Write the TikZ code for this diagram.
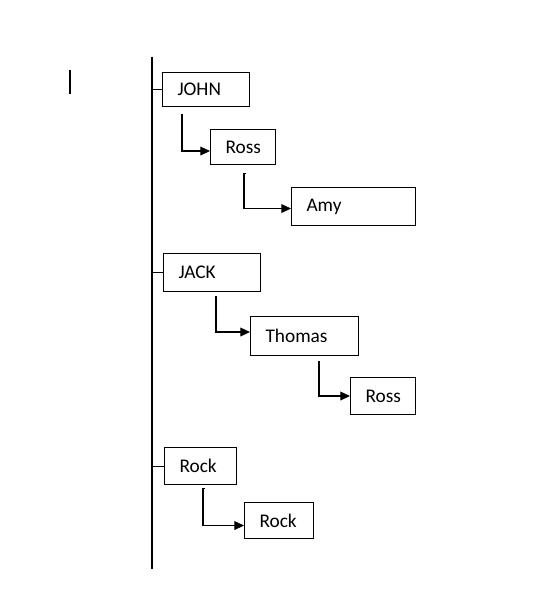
\documentclass[tikz,border=0pt]{standalone}
\usepackage{fontspec}
\setmainfont{Carlito}
\usetikzlibrary{arrows.meta,calc,positioning}

\begin{document}
\begin{tikzpicture}[x=0.02cm,y=-0.02cm,line width=0.6pt,
  box/.style={draw,anchor=north west,inner xsep=0.3cm,inner ysep=0pt,align=left,font=\fontsize{11}{13}\selectfont},
  link/.style={-{Triangle[length=5.5pt,width=5pt]}}]
  \useasboundingbox (0,0) rectangle (547,597);
  % cursor mark
  \draw (70,70) -- (70,94);
  % spine
  \coordinate (spinetop) at (152,57);
  \coordinate (spinebot) at (152,569);
  \draw (spinetop) -- (spinebot);
  % boxes
  \node[box,text width=1.14cm,minimum height=0.68cm] (john) at (162,72) {JOHN};
  \node[box,text width=0.70cm,minimum height=0.70cm] (ross) at (210,129) {Ross};
  \node[box,text width=1.88cm,minimum height=0.76cm] (amy) at (291,187) {Amy};
  \node[box,text width=1.34cm,minimum height=0.76cm] (jack) at (163,253) {JACK};
  \node[box,text width=1.56cm,minimum height=0.78cm] (thomas) at (250,316) {Thomas};
  \node[box,text width=0.70cm,minimum height=0.74cm] (rosstwo) at (350,377) {Ross};
  \node[box,text width=0.84cm,minimum height=0.74cm] (rock) at (164,447) {Rock};
  \node[box,text width=0.78cm,minimum height=0.72cm] (rocktwo) at (244,502) {Rock};
  % ticks from spine
  \foreach \n in {john,jack,rock}
    \draw (\n.west -| spinetop) -- (\n.west);
  % connectors
  \draw[link] ($(john.south west)+(20,7)$) |- ([yshift=-0.08cm]ross.west);
  \draw[link] ($(ross.south west)+(36,8)$) -- ($(ross.south west)+(34,8)$) |- ([yshift=-0.04cm]amy.west);
  \draw[link] ($(jack.south west)+(53,4)$) |- ([yshift=0.08cm]thomas.west);
  \draw[link] ($(thomas.south west)+(69,5)$) |- (rosstwo.west);
  \draw[link] ($(rock.south west)+(41,3)$) -- ($(rock.south west)+(39,3)$) |- ([yshift=-0.1cm]rocktwo.west);
\end{tikzpicture}
\end{document}
